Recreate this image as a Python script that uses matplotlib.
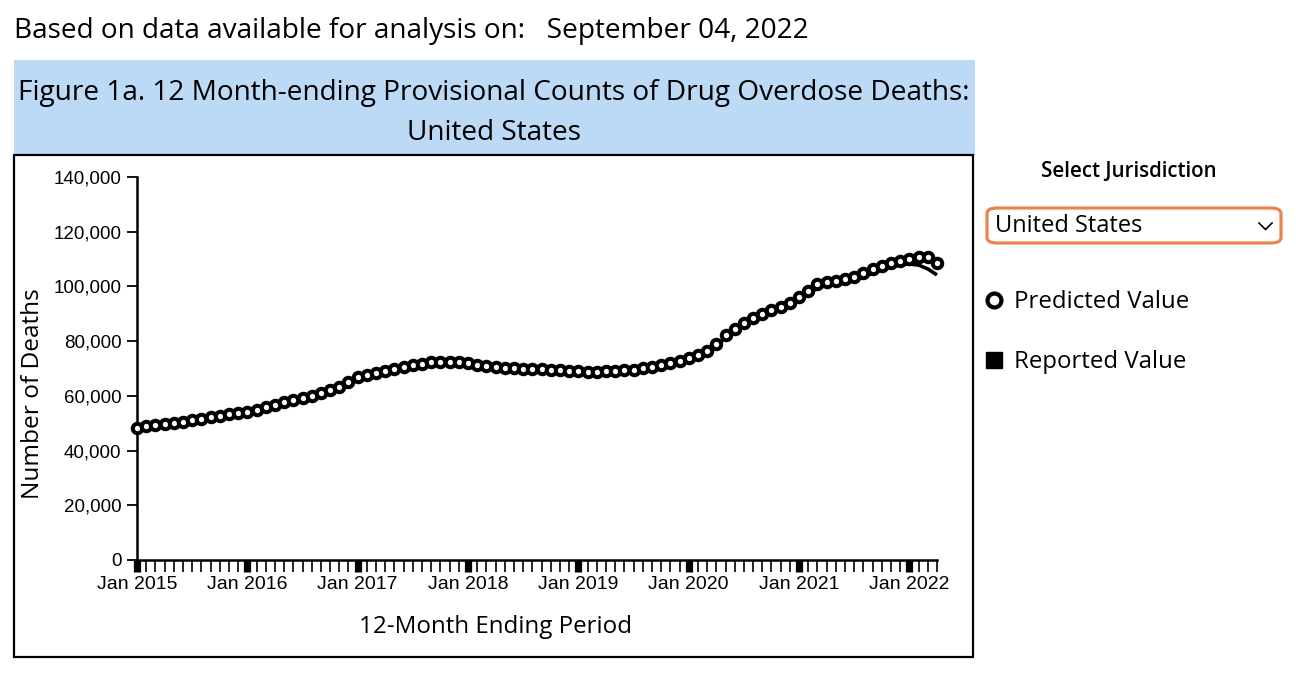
import matplotlib
matplotlib.use("Agg")
import matplotlib.pyplot as plt
from matplotlib.patches import Rectangle, FancyBboxPatch
from matplotlib.lines import Line2D
import numpy as np

# 12 month-ending periods, Jan 2015 .. Apr 2022
n_months = 88
year_labels = ["Jan 2015", "Jan 2016", "Jan 2017", "Jan 2018",
               "Jan 2019", "Jan 2020", "Jan 2021", "Jan 2022"]

# predicted values (thousands)
predicted = [
    48.4, 48.8, 49.3, 49.7, 50.1, 50.6, 51.1, 51.6, 52.2, 52.8, 53.3, 53.7,
    54.1, 55.0, 55.9, 56.8, 57.6, 58.4, 59.2, 60.1, 61.0, 62.0, 63.3, 65.2,
    67.0, 67.8, 68.4, 69.2, 70.0, 70.7, 71.3, 71.8, 72.2, 72.4, 72.5, 72.3,
    72.0, 71.4, 71.0, 70.6, 70.3, 70.1, 70.0, 69.9, 69.8, 69.6, 69.4, 69.2,
    69.0, 68.9, 68.9, 69.0, 69.1, 69.3, 69.6, 70.1, 70.7, 71.4, 72.1, 72.9,
    74.0, 75.0, 76.4, 78.8, 82.2, 84.3, 86.5, 88.4, 90.1, 91.4, 92.6, 94.0,
    96.2, 98.3, 100.8, 101.5, 101.9, 102.6, 103.6, 104.8, 106.2, 107.5, 108.6, 109.4,
    110.0, 110.9, 110.6, 108.4,
]
# reported values (thousands)
reported = [
    48.2, 48.6, 49.1, 49.5, 49.9, 50.4, 50.9, 51.4, 52.0, 52.6, 53.1, 53.5,
    53.9, 54.8, 55.6, 56.5, 57.3, 58.1, 58.9, 59.8, 60.7, 61.7, 63.0, 64.9,
    66.6, 67.4, 68.0, 68.8, 69.6, 70.3, 70.9, 71.4, 71.8, 72.0, 72.1, 71.9,
    71.6, 71.0, 70.6, 70.2, 69.9, 69.7, 69.6, 69.5, 69.4, 69.2, 69.0, 68.8,
    68.6, 68.5, 68.5, 68.6, 68.7, 68.9, 69.2, 69.6, 70.2, 70.9, 71.6, 72.4,
    73.4, 74.4, 75.8, 78.1, 81.4, 83.5, 85.6, 87.5, 89.2, 90.5, 91.7, 93.0,
    95.0, 97.1, 99.5, 100.3, 100.7, 101.3, 102.3, 103.5, 104.8, 106.1, 107.2, 107.9,
    108.2, 107.8, 106.4, 104.2,
]

months = np.arange(n_months)
pred = np.array(predicted) * 1000
rep = np.array(reported) * 1000

W, H = 1296, 678
fig = plt.figure(figsize=(W / 100, H / 100), dpi=100)
fig.patch.set_facecolor("white")

def fx(px):
    return px / W

def fy(py):
    return 1 - py / H

head_font = "Open Sans"
tick_font = "Liberation Sans"

# header text and title band
fig.text(fx(14), fy(31), "Based on data available for analysis on:   September 04, 2022",
         fontsize=20.2, family=head_font, va="center", ha="left", color="black")
fig.patches.append(Rectangle((fx(14), fy(155)), fx(975 - 14), (155 - 60) / H,
                             transform=fig.transFigure, facecolor="#BCDAF6",
                             edgecolor="none", zorder=0))
fig.text(fx(494), fy(93), "Figure 1a. 12 Month-ending Provisional Counts of Drug Overdose Deaths:",
         fontsize=20.2, family=head_font, ha="center", va="center")
fig.text(fx(494), fy(133), "United States", fontsize=20.2, family=head_font,
         ha="center", va="center")
fig.patches.append(Rectangle((fx(14), fy(657)), fx(973 - 14), (657 - 155) / H,
                             transform=fig.transFigure, facecolor="none",
                             edgecolor="black", linewidth=1.6, zorder=1))

# main axes
ax = fig.add_axes([fx(137), fy(560), fx(937 - 137), (560 - 177) / H])
ax.plot(months, rep, color="black", linewidth=2.6, solid_capstyle="butt", zorder=2,
        clip_on=False)
ax.plot(months, pred, linestyle="none", marker="o", markersize=6.8,
        markerfacecolor="white", markeredgecolor="black", markeredgewidth=2.9,
        zorder=3, clip_on=False)

ax.set_xlim(0, n_months - 1)
ax.set_ylim(0, 140000)
ax.set_yticks(np.arange(0, 140001, 20000))
ax.set_yticklabels([f"{v:,}" for v in range(0, 140001, 20000)],
                   family=tick_font, fontsize=13.5)
jan_pos = np.arange(0, n_months, 12)
ax.set_xticks(jan_pos)
ax.set_xticklabels(year_labels, family=tick_font, fontsize=14)
ax.set_xticks(months, minor=True)
ax.tick_params(axis="x", which="major", length=8.6, width=5.2, pad=3, direction="out")
ax.tick_params(axis="x", which="minor", length=8.6, width=1.2, direction="out")
ax.tick_params(axis="y", which="major", length=7.2, width=1.3, pad=4)

for s in ["top", "right"]:
    ax.spines[s].set_visible(False)
ax.spines["left"].set_linewidth(1.8)
ax.spines["bottom"].set_linewidth(1.8)

# axis titles are centred on the outer frame, not the axes
fig.text(fx(496), fy(627), "12-Month Ending Period", family=head_font, fontsize=17.4,
         ha="center", va="center")
fig.text(fx(33), fy(394), "Number of Deaths", family=head_font, fontsize=17.6,
         ha="center", va="center", rotation=90)

# jurisdiction selector
fig.text(fx(1129), fy(171), "Select Jurisdiction", family=head_font, fontsize=14.8,
         fontweight="semibold", ha="center", va="center")
fig.patches.append(FancyBboxPatch((fx(987), fy(243)), fx(1281 - 987), (243 - 208) / H,
                                  boxstyle="round,pad=0,rounding_size=0.008",
                                  transform=fig.transFigure, facecolor="white",
                                  edgecolor="#E9844D", linewidth=2.3))
fig.text(fx(995), fy(226), "United States", family=head_font, fontsize=17,
         ha="left", va="center")
fig.lines.append(Line2D([fx(1259), fx(1265.5), fx(1272)], [fy(223), fy(229.5), fy(223)],
                        transform=fig.transFigure, color="black", linewidth=1.2))

# legend
handles = [
    Line2D([], [], linestyle="none", marker="o", markersize=10,
           markerfacecolor="white", markeredgecolor="black", markeredgewidth=3),
    Line2D([], [], linestyle="none", marker="s", markersize=11,
           markerfacecolor="black", markeredgecolor="black"),
]
fig.legend(handles, ["Predicted Value", "Reported Value"], loc="upper left",
           bbox_to_anchor=(fx(983), fy(290)), frameon=False,
           prop={"family": head_font, "size": 17.3}, labelspacing=1.5,
           handlelength=0.9, handletextpad=0.4, borderaxespad=0, borderpad=0)

fig.savefig("out.png", dpi=100, facecolor="white")
